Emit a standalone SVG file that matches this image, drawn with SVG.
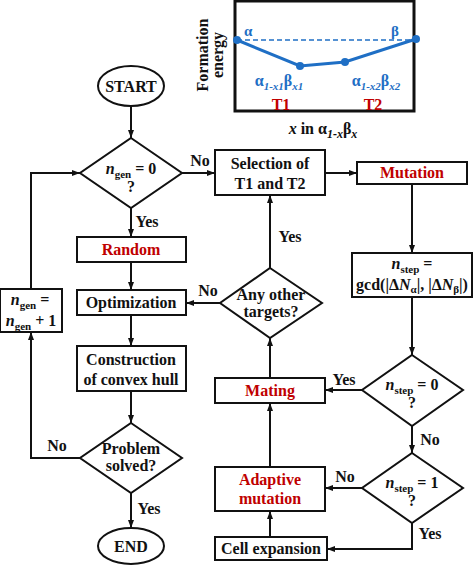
<svg xmlns="http://www.w3.org/2000/svg" width="474" height="566" viewBox="0 0 474 566">
<style>
text{font-family:'Liberation Serif','DejaVu Serif',serif;font-weight:bold;fill:#111;}
.t{font-size:16px;text-anchor:middle;}
.red{fill:#c00000;}
.blue{fill:#1f6fc5;}
.box{fill:#fff;stroke:#111;stroke-width:2;}
.conn{fill:none;stroke:#111;stroke-width:2;marker-end:url(#ah);}
.sub{font-size:11px;}
.it{font-style:italic;}
</style>
<defs>
<marker id="ah" markerWidth="8" markerHeight="6" refX="8" refY="3" orient="auto" markerUnits="userSpaceOnUse">
<path d="M0,0 L8,3 L0,6 z" fill="#111"/>
</marker>
</defs>
<rect width="474" height="566" fill="#fff"/>
<g font-family="Liberation Serif, serif">
<g id="inset">
<rect x="235" y="1" width="179" height="110" fill="#fff" stroke="#111" stroke-width="3"/>
<line x1="237" y1="40" x2="416" y2="40" stroke="#1f6fc5" stroke-width="1.6" stroke-dasharray="5,3"/>
<polyline points="237,40 300,66 345,62 416,39" fill="none" stroke="#1f6fc5" stroke-width="3"/>
<circle cx="237" cy="40" r="4" fill="#1f6fc5"/>
<circle cx="300" cy="66" r="4" fill="#1f6fc5"/>
<circle cx="345" cy="62" r="4" fill="#1f6fc5"/>
<circle cx="416" cy="39" r="4" fill="#1f6fc5"/>
<text x="244" y="36" class="blue" font-size="15">α</text>
<text x="391" y="36" class="blue" font-size="15">β</text>
<text x="279" y="86" class="blue t">α<tspan class="sub it" dy="4">1-x1</tspan><tspan dy="-4">β</tspan><tspan class="sub it" dy="4">x1</tspan></text>
<text x="376" y="86" class="blue t">α<tspan class="sub it" dy="4">1-x2</tspan><tspan dy="-4">β</tspan><tspan class="sub it" dy="4">x2</tspan></text>
<text x="281" y="110" class="red t" font-size="18">T1</text>
<text x="373" y="110" class="red t" font-size="18">T2</text>
<text x="323" y="134" class="t" font-size="18"><tspan class="it">x</tspan> in α<tspan class="it" font-size="12" dy="4">1-x</tspan><tspan dy="-4">β</tspan><tspan class="it" font-size="12" dy="4">x</tspan></text>
<text transform="translate(208,55) rotate(-90)" class="t" font-size="18">Formation</text>
<text transform="translate(223,55) rotate(-90)" class="t" font-size="18">energy</text>
</g>

<g id="start">
<ellipse cx="131" cy="86" rx="33" ry="20" class="box"/>
<text x="131" y="92" class="t">START</text>
</g>
<g id="d_ngen0">
<polygon points="131,138 182,173 131,208 80,173" class="box"/>
<text x="131" y="174" class="t"><tspan class="it">n</tspan><tspan class="sub" dy="4">gen</tspan><tspan dy="-4"> = 0</tspan></text>
<text x="131" y="192" class="t" font-size="14">?</text>
</g>
<g id="random">
<rect x="77" y="237" width="109" height="25" class="box"/>
<text x="131" y="255" class="t red">Random</text>
</g>
<g id="optimization">
<rect x="77" y="290" width="109" height="25" class="box"/>
<text x="131" y="308" class="t">Optimization</text>
</g>
<g id="ngen_inc">
<rect x="0" y="289" width="62" height="43" class="box"/>
<text x="30" y="305" class="t"><tspan class="it">n</tspan><tspan class="sub" dy="4">gen</tspan><tspan dy="-4"> =</tspan></text>
<text x="31" y="326" class="t"><tspan class="it">n</tspan><tspan class="sub" dy="4">gen</tspan><tspan dy="-4"> + 1</tspan></text>
</g>
<g id="construction">
<rect x="77" y="346" width="109" height="45" class="box"/>
<text x="131" y="365" class="t">Construction</text>
<text x="131" y="385" class="t">of convex hull</text>
</g>
<g id="d_solved">
<polygon points="131,423 182,458 131,493 80,458" class="box"/>
<text x="131" y="454" class="t" font-size="14">Problem</text>
<text x="131" y="471" class="t" font-size="14">solved?</text>
</g>
<g id="end">
<ellipse cx="131" cy="546" rx="33" ry="18" class="box"/>
<text x="131" y="552" class="t">END</text>
</g>

<g id="selection">
<rect x="215" y="150" width="110" height="45" class="box"/>
<text x="270" y="169" class="t">Selection of</text>
<text x="270" y="189" class="t">T1 and T2</text>
</g>
<g id="mutation">
<rect x="357" y="162" width="110" height="22" class="box"/>
<text x="412" y="178" class="t red">Mutation</text>
</g>
<g id="nstep_box">
<rect x="352" y="253" width="120" height="44" class="box"/>
<text x="412" y="269" class="t"><tspan class="it">n</tspan><tspan class="sub" dy="4">step</tspan><tspan dy="-4"> =</tspan></text>
<text x="412" y="290" class="t" font-size="15">gcd(|Δ<tspan class="it">N</tspan><tspan class="sub" dy="3">α</tspan><tspan dy="-3">|, |Δ</tspan><tspan class="it">N</tspan><tspan class="sub" dy="3">β</tspan><tspan dy="-3">|)</tspan></text>
</g>
<g id="d_targets">
<polygon points="270,268 322,303 270,338 220,303" class="box"/>
<text x="271" y="300" class="t" font-size="14">Any other</text>
<text x="271" y="317" class="t" font-size="14">targets?</text>
</g>
<g id="mating">
<rect x="215" y="378" width="110" height="25" class="box"/>
<text x="270" y="396" class="t red">Mating</text>
</g>
<g id="d_nstep0">
<polygon points="412,355 463,390 412,426 362,390" class="box"/>
<text x="412" y="390" class="t"><tspan class="it">n</tspan><tspan class="sub" dy="4">step</tspan><tspan dy="-4"> = 0</tspan></text>
<text x="412" y="408" class="t" font-size="14">?</text>
</g>
<g id="d_nstep1">
<polygon points="412,453 463,488 412,523 362,488" class="box"/>
<text x="412" y="488" class="t"><tspan class="it">n</tspan><tspan class="sub" dy="4">step</tspan><tspan dy="-4"> = 1</tspan></text>
<text x="412" y="506" class="t" font-size="14">?</text>
</g>
<g id="adaptive">
<rect x="215" y="467" width="110" height="44" class="box"/>
<text x="270" y="485" class="t red">Adaptive</text>
<text x="270" y="504" class="t red">mutation</text>
</g>
<g id="cell">
<rect x="215" y="537" width="112" height="23" class="box"/>
<text x="271" y="554" class="t">Cell expansion</text>
</g>
</g>
<g id="connectors">
<path class="conn" d="M131,106 V138"/>
<path class="conn" d="M182,173 H215"/>
<path class="conn" d="M131,208 V237"/>
<path class="conn" d="M131,262 V290"/>
<path class="conn" d="M131,315 V346"/>
<path class="conn" d="M131,391 V423"/>
<path class="conn" d="M131,493 V528"/>
<path class="conn" d="M80,458 H31 V332"/>
<path class="conn" d="M31,289 V173 H80"/>
<path class="conn" d="M325,173 H357"/>
<path class="conn" d="M412,184 V253"/>
<path class="conn" d="M412,297 V355"/>
<path class="conn" d="M362,390 H325"/>
<path class="conn" d="M412,426 V453"/>
<path class="conn" d="M362,488 H325"/>
<path class="conn" d="M412,523 V549 H327"/>
<path class="conn" d="M270,537 V511"/>
<path class="conn" d="M270,467 V403"/>
<path class="conn" d="M270,378 V338"/>
<path class="conn" d="M270,268 V195"/>
<path class="conn" d="M220,303 H186"/>
</g>
<g id="labels" font-family="Liberation Serif, serif">
<text x="200" y="166" class="t">No</text>
<text x="147" y="227" class="t">Yes</text>
<text x="57" y="451" class="t">No</text>
<text x="149" y="514" class="t">Yes</text>
<text x="290" y="242" class="t">Yes</text>
<text x="208" y="296" class="t">No</text>
<text x="344" y="385" class="t">Yes</text>
<text x="430" y="445" class="t">No</text>
<text x="345" y="482" class="t">No</text>
<text x="430" y="539" class="t">Yes</text>
</g>
</svg>
